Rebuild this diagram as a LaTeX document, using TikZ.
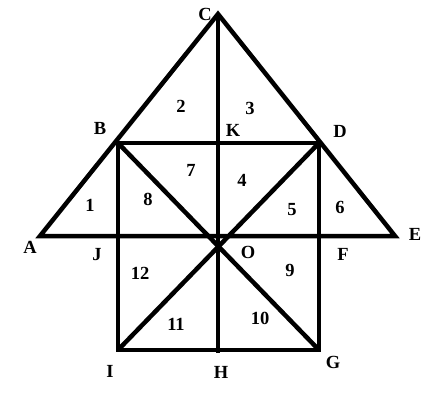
\documentclass[tikz,border=0pt]{standalone}
\usepackage{fontspec}
\setmainfont{Liberation Serif}
\begin{document}
\def\lw{4.5pt}
\def\lbl#1#2#3{
\node[font=\bfseries\fontsize{18.5}{20}\selectfont] (#1) at #2 {#3};
}

\begin{tikzpicture}[x=1pt,y=-1pt,line width=\lw,line join=miter]
\useasboundingbox (0,0) rectangle (427,406);
% Punkte
\coordinate (pA) at (40,236);
\coordinate (pC) at (218,14);
\coordinate (pE) at (395,236);
\coordinate (pB) at (118,143);
\coordinate (pD) at (319,143);
\coordinate (pG) at (319,350);
\coordinate (pI) at (118,350);
\coordinate (pO) at (218,236);
\coordinate (pH) at (218,353);
% Dreieck und Quadrat
\draw (pA) -- (pC) -- (pE) -- cycle;
\draw (pB) -- (pD) -- (pG) -- (pI) -- cycle;
\draw (pC) -- (pH);
\draw (pB) -- (pG);
\draw (pD) -- (pI);
% Buchstaben
\lbl{lC}{(205,14)}{C}
\lbl{lB}{(100,128)}{B}
\lbl{lK}{(233,130)}{K}
\lbl{lD}{(340,131)}{D}
\lbl{lA}{(30,247)}{A}
\lbl{lE}{(415,234)}{E}
\lbl{lJ}{(97,255)}{J}
\lbl{lO}{(248,252)}{O}
\lbl{lF}{(343,254)}{F}
\lbl{lI}{(110,371)}{I}
\lbl{lH}{(221,372)}{H}
\lbl{lG}{(333,362)}{G}
% Zahlen
\lbl{n1}{(90,205)}{1}
\lbl{n2}{(181,106)}{2}
\lbl{n3}{(250,108)}{3}
\lbl{n4}{(242,180)}{4}
\lbl{n5}{(292,210)}{5}
\lbl{n6}{(340,207)}{6}
\lbl{n7}{(191,170)}{7}
\lbl{n8}{(148,199)}{8}
\lbl{n9}{(290,270)}{9}
\lbl{n10}{(260,318)}{10}
\lbl{n11}{(176,324)}{11}
\lbl{n12}{(140,273)}{12}
\end{tikzpicture}
\end{document}
